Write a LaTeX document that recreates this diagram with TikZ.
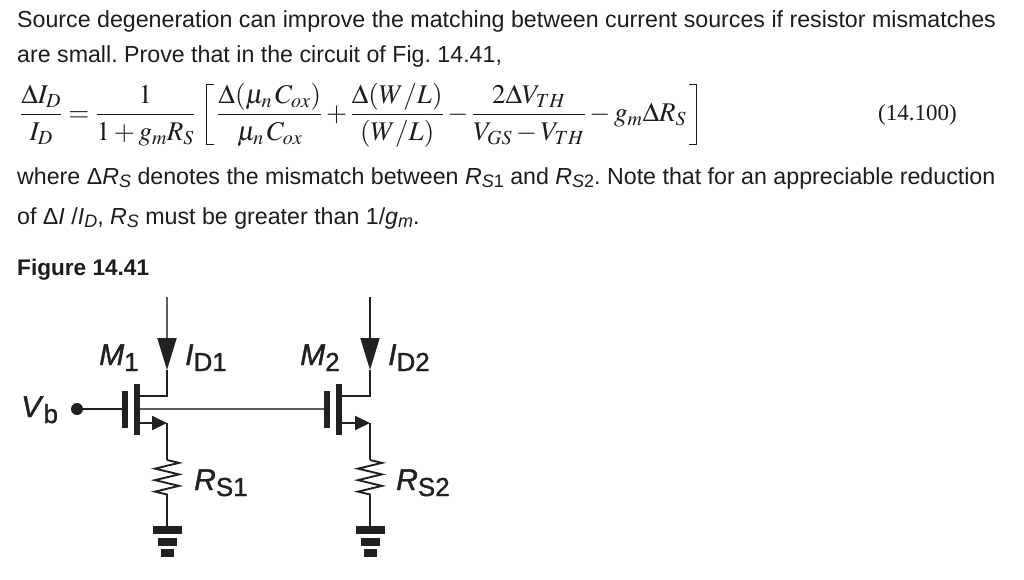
\documentclass[tikz,border=0pt]{standalone}
\usepackage{amsmath}
\usepackage{mathptmx}
\usepackage[no-math]{fontspec}
\setmainfont{Liberation Sans}
\newfontfamily\serifeq{Liberation Serif}
\newfontfamily\labelfont[FakeBold=1.3]{Liberation Sans}
\usetikzlibrary{arrows.meta, decorations.pathmorphing}
\definecolor{wiredark}{rgb}{0.13, 0.13, 0.13}
\definecolor{wiregrey}{rgb}{0.36, 0.36, 0.36}
\definecolor{textdark}{rgb}{0.11, 0.11, 0.11}
\newcommand{\lowtext}[1]{\raisebox{-3.5pt}{\fontsize{18}{19}\selectfont #1}}
\newcommand{\lowlabel}[1]{\raisebox{-6pt}{\fontsize{26}{28}\selectfont #1}}
\newcommand{\bracketleft}{\vcenter{\hbox{\rlap{\vrule width 8pt height 30.5pt depth -29.5pt}\rlap{\vrule width 8pt height -29.5pt depth 30.5pt}\vrule width 1.1pt height 30.5pt depth 30.5pt\kern6.9pt}}}
\newcommand{\bracketright}{\vcenter{\hbox{\rlap{\vrule width 8pt height 30.5pt depth -29.5pt}\rlap{\vrule width 8pt height -29.5pt depth 30.5pt}\kern6.9pt\vrule width 1.1pt height 30.5pt depth 30.5pt}}}
\frenchspacing
\begin{document}
\begin{tikzpicture}[
	x=1pt, y=-1pt,
	texts/.style = {text=textdark, inner sep=0pt, anchor=base west, font=\fontsize{23.2}{28}\selectfont},
	labeltexts/.style = {text=wiredark, inner sep=0pt, anchor=base west, font=\labelfont\fontsize{30}{32}\selectfont},
	wire/.style = {draw=wiredark, line width=1.9pt},
	greywire/.style = {draw=wiregrey, line width=2pt},
	bar/.style = {fill=wiredark, draw=none, inner sep=0pt, minimum width=#1},
	gatebar/.style = {bar=6pt, minimum height=37pt},
	channelbar/.style = {bar=6.5pt, minimum height=51pt},
	ground/.style = {bar=#1, minimum height=8pt},
	bigtip/.style = {-{Triangle[length=32pt, width=19pt]}},
	smalltip/.style = {-{Triangle[length=15pt, width=14pt]}},
	spring/.style = {wire, decorate, decoration={zigzag, amplitude=12pt, segment length=11.5pt}}
	]
	\useasboundingbox (0,0) rectangle (1024,579);

	% text above the figure
	\node[texts] (line1) at (17,27) {Source degeneration can improve the matching between current sources if resistor mismatches};
	\node[texts] (line2) at (17,62) {are small. Prove that in the circuit of Fig. 14.41,};
	\node[inner sep=0pt, anchor=west, text=textdark] (formula) at (20,115) {\fontsize{27}{30}\selectfont
		$\dfrac{\Delta I_D}{I_D} = \dfrac{1}{1+g_m R_S}\;\kern5pt
		\bracketleft\,\dfrac{\Delta(\mu_n\mskip2mu C_{ox})}{\mu_n\mskip2mu C_{ox}} + \dfrac{\Delta(W/L)}{(W/L)}
		- \dfrac{2\Delta V_{TH}}{V_{GS}-V_{TH}} - g_m \Delta R_S\,\bracketright$};
	\node[texts, font=\serifeq\fontsize{23}{26}\selectfont] (eqnum) at (878,120) {(14.100)};
	\node[texts] (line3) at (17,184) {where Δ\textit{R}\lowtext{\textit{S}} denotes the mismatch between \textit{R}\lowtext{\textit{S}1} and \textit{R}\lowtext{\textit{S}2}. Note that for an appreciable reduction};
	\node[texts] (line4) at (17,224) {of Δ\textit{I} /\textit{I}\lowtext{\textit{D}}, \textit{R}\lowtext{\textit{S}} must be greater than 1/\textit{g}\lowtext{\textit{m}}.};
	\node[texts, font=\fontsize{22.6}{26}\selectfont\bfseries] (figname) at (17,275) {Figure 14.41};

	% gate input
	\fill[wiredark] (77,409) circle (6pt);
	\coordinate (vbdot) at (77,409);
	\node[labeltexts] (vb) at (21,417) {\textit{V}\lowlabel{b}};

	% left transistor and its branch
	\node[gatebar] (gatea) at (125,409) {};
	\node[channelbar] (chana) at (137,409) {};
	\node[ground=29pt] (gnda) at (167,530) {};
	\node[ground=19pt] (gndb) at (167,542) {};
	\node[ground=13pt] (gndc) at (167,553) {};
	\coordinate (topa) at (167,297);
	\coordinate (basea) at (167,338);
	\coordinate (arrowa) at (167,370);
	\coordinate (draina) at (167,396);
	\coordinate (sourcea) at (167,423);
	\coordinate (resa) at (167,460);
	\coordinate (resb) at (167,496);
	\node[labeltexts] (ma) at (99,365) {\textit{M}\lowlabel{1}};
	\node[labeltexts] (ida) at (185,365) {\textit{I}\lowlabel{D1}};
	\node[labeltexts] (rsa) at (194,490) {\textit{R}\lowlabel{S1}};

	% right transistor and its branch
	\node[gatebar] (gatec) at (327,409) {};
	\node[channelbar] (chanc) at (339,409) {};
	\node[ground=29pt] (gndd) at (370,530) {};
	\node[ground=19pt] (gnde) at (370,542) {};
	\node[ground=13pt] (gndf) at (370,553) {};
	\coordinate (topc) at (370,297);
	\coordinate (arrowc) at (370,370);
	\coordinate (drainc) at (370,396);
	\coordinate (sourcec) at (370,423);
	\coordinate (resc) at (370,460);
	\coordinate (resd) at (370,496);
	\node[labeltexts] (mc) at (300,365) {\textit{M}\lowlabel{2}};
	\node[labeltexts] (idc) at (388,365) {\textit{I}\lowlabel{D2}};
	\node[labeltexts] (rsc) at (396,490) {\textit{R}\lowlabel{S2}};

	% connections
	\draw[wire] (vbdot) -- (gatea);
	\draw[greywire] (chana) -- (gatec);
	\draw[greywire] (topa) -- (basea);
	\draw[wire, bigtip] (basea) -- (arrowa);
	\draw[wire] (arrowa) -- (draina) -- (chana.east |- draina);
	\draw[wire, smalltip] (chana.east |- sourcea) -- (sourcea);
	\draw[wire] (sourcea) -- (resa);
	\draw[spring] (resa) -- (resb);
	\draw[wire] (resb) -- (gnda);
	\draw[wire, bigtip] (topc) -- (arrowc);
	\draw[wire] (arrowc) -- (drainc) -- (chanc.east |- drainc);
	\draw[wire, smalltip] (chanc.east |- sourcec) -- (sourcec);
	\draw[wire] (sourcec) -- (resc);
	\draw[spring] (resc) -- (resd);
	\draw[wire] (resd) -- (gndd);
\end{tikzpicture}
\end{document}
